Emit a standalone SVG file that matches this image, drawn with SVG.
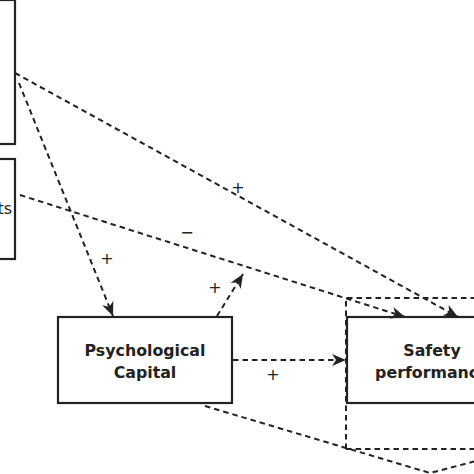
<svg xmlns="http://www.w3.org/2000/svg" width="474" height="474" viewBox="0 0 474 474">
<style>
.box{fill:#fff;stroke:#222;stroke-width:2.2}
.dash{fill:none;stroke:#222;stroke-width:2;stroke-dasharray:5.5 4}
.lbl{font-family:"DejaVu Sans",sans-serif;font-size:15.8px;font-weight:bold;fill:#222;text-anchor:middle}
.sign{font-family:"DejaVu Sans",sans-serif;font-size:16px;fill:#222;text-anchor:middle}
</style>
<defs>
<marker id="ah" markerUnits="userSpaceOnUse" markerWidth="16" markerHeight="14" refX="14" refY="6" orient="auto">
<path d="M0,0 L14,6 L0,12 L4,6 Z" fill="#222"/>
</marker>
</defs>
<rect width="474" height="474" fill="#fff"/>
<g id="moderator-frame">
<path class="dash" d="M346,449 V298 H476 M346,449 H476"/>
</g>
<g id="node-top-left">
<rect class="box" x="-20" y="0" width="35" height="144"/>
</g>
<g id="node-mid-left">
<rect class="box" x="-20" y="159" width="35" height="100"/>
<text class="sign" x="12" y="214" style="text-anchor:end">ts</text>
</g>
<g id="node-psycap">
<rect class="box" x="58" y="317" width="174" height="86"/>
<text class="lbl" x="145" y="356">Psychological</text>
<text class="lbl" x="145" y="378">Capital</text>
</g>
<g id="node-safety">
<rect class="box" x="347" y="317" width="170" height="86"/>
<text class="lbl" x="432" y="356">Safety</text>
<text class="lbl" x="432" y="378">performance</text>
</g>
<g id="connectors">
<line class="dash" x1="15" y1="73" x2="458" y2="317" marker-end="url(#ah)"/>
<line class="dash" x1="19" y1="83" x2="113" y2="316" marker-end="url(#ah)"/>
<line class="dash" x1="20" y1="195" x2="405" y2="317" marker-end="url(#ah)"/>
<line class="dash" x1="217" y1="316" x2="243" y2="274" marker-end="url(#ah)"/>
<line class="dash" x1="233" y1="360" x2="346" y2="360" marker-end="url(#ah)"/>
<polyline class="dash" points="205,406 430,473 476,461"/>
</g>
<g id="labels">
<text class="sign" x="238" y="193">+</text>
<text class="sign" x="107" y="264">+</text>
<text class="sign" x="187" y="238">−</text>
<text class="sign" x="215" y="293">+</text>
<text class="sign" x="273" y="380">+</text>
</g>
</svg>
